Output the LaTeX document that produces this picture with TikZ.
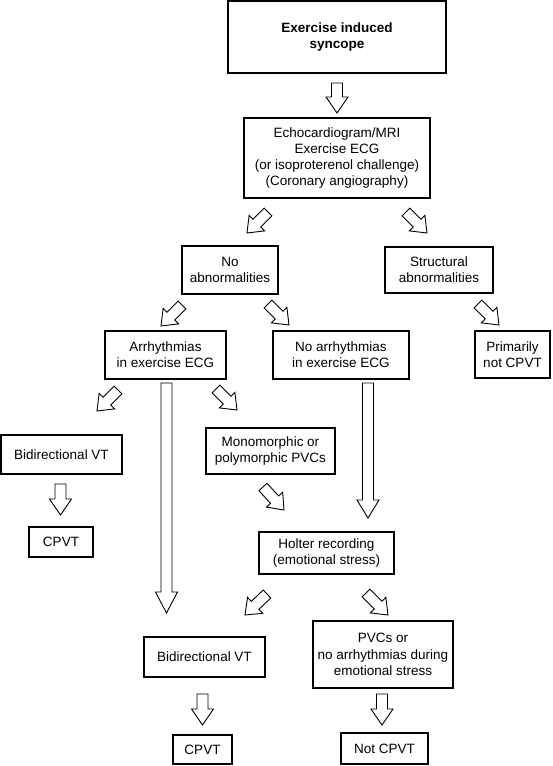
\documentclass[tikz,border=0pt]{standalone}
\usepackage{fontspec}
\setmainfont{Liberation Sans}
\newcommand{\blockarrow}[3][16]{%
  \pgfmathanglebetweenpoints{\pgfpointanchor{#2}{center}}{\pgfpointanchor{#3}{center}}%
  \let\baang\pgfmathresult
  \pgfpointdiff{\pgfpointanchor{#2}{center}}{\pgfpointanchor{#3}{center}}%
  \pgfgetlastxy{\badx}{\bady}%
  \pgfmathveclen{\badx}{\bady}\let\balen\pgfmathresult
  \draw[barrowst, shift={(#2)}, rotate=\baang] (0,5.5) -- ({\balen-#1},5.5) -- ({\balen-#1},11) -- (\balen,0) -- ({\balen-#1},-11) -- ({\balen-#1},-5.5) -- (0,-5.5) -- cycle;
}
\begin{document}
\begin{tikzpicture}[x=1pt,y=-1pt,
  box/.style={draw, line width=1.1pt, align=center, inner sep=0pt,
    font=\fontsize{13.5}{16.3}\selectfont},
  sz/.style 2 args={minimum width=#1pt, minimum height=#2pt},
  barrowst/.style={draw, fill=white, line width=0.9pt, line join=miter}]
\useasboundingbox (0,0) rectangle (553,766);

% boxes
\node[box, sz={218}{72}, font=\fontsize{13.5}{16.3}\selectfont\bfseries] (A) at (337,37) {Exercise induced\\syncope};
\node[box, sz={186}{80}] (B) at (337,158) {Echocardiogram/MRI\\Exercise ECG\\(or isoproterenol challenge)\\(Coronary angiography)};
\node[box, sz={96}{48}] (C) at (230,270) {No\\abnormalities};
\node[box, sz={108}{46}] (D) at (439,270) {Structural\\abnormalities};
\node[box, sz={121}{48}] (E) at (165.5,355) {Arrhythmias\\in exercise ECG};
\node[box, sz={136}{48}] (F) at (341,355) {No arrhythmias\\in exercise ECG};
\node[box, sz={75}{47}] (G) at (512.5,354.5) {Primarily\\not CPVT};
\node[box, sz={121}{39}] (H) at (61.5,454.5) {Bidirectional VT};
\node[box, sz={64}{30}] (I) at (61,542) {CPVT};
\node[box, sz={129}{46}] (J) at (270.5,451) {Monomorphic or\\polymorphic PVCs};
\node[box, sz={135}{42}] (K) at (326.5,553) {Holter recording\\(emotional stress)};
\node[box, sz={121}{40}] (L) at (204.5,657) {Bidirectional VT};
\node[box, sz={140}{67}] (M) at (383,654.5) {PVCs or\\no arrhythmias during\\emotional stress};
\node[box, sz={59}{29}] (N) at (202.5,749.5) {CPVT};
\node[box, sz={87}{31}] (O) at (384.5,748.5) {Not CPVT};

% arrow end points
\coordinate (ab1) at (337,83);    \coordinate (ab2) at (337,113);
\coordinate (bc1) at (268,212);   \coordinate (bc2) at (247,233);
\coordinate (bd1) at (406,212);   \coordinate (bd2) at (427,233);
\coordinate (ce1) at (182,305);   \coordinate (ce2) at (161,326);
\coordinate (cf1) at (268,304);   \coordinate (cf2) at (289,325);
\coordinate (dg1) at (478,304);   \coordinate (dg2) at (499,325);
\coordinate (eh1) at (118,390);   \coordinate (eh2) at (97,411);
\coordinate (el1) at (166.5,383); \coordinate (el2) at (166.5,613);
\coordinate (ej1) at (216,389);   \coordinate (ej2) at (237,410);
\coordinate (fk1) at (368,383);   \coordinate (fk2) at (368,518);
\coordinate (hi1) at (60.5,484);  \coordinate (hi2) at (60.5,515);
\coordinate (jk1) at (263,487);   \coordinate (jk2) at (284,510);
\coordinate (kl1) at (267,594);   \coordinate (kl2) at (245,615);
\coordinate (km1) at (366,593);   \coordinate (km2) at (388,615);
\coordinate (ln1) at (202.5,694); \coordinate (ln2) at (202.5,725);
\coordinate (mo1) at (382,694);   \coordinate (mo2) at (382,725);

% arrows
\blockarrow{ab1}{ab2}
\blockarrow[14]{bc1}{bc2}
\blockarrow[14]{bd1}{bd2}
\blockarrow[14]{ce1}{ce2}
\blockarrow[14]{cf1}{cf2}
\blockarrow[14]{dg1}{dg2}
\blockarrow[14]{eh1}{eh2}
\blockarrow[21]{el1}{el2}
\blockarrow[14]{ej1}{ej2}
\blockarrow[18]{fk1}{fk2}
\blockarrow{hi1}{hi2}
\blockarrow[14]{jk1}{jk2}
\blockarrow[14]{kl1}{kl2}
\blockarrow[14]{km1}{km2}
\blockarrow{ln1}{ln2}
\blockarrow{mo1}{mo2}
\end{tikzpicture}
\end{document}
